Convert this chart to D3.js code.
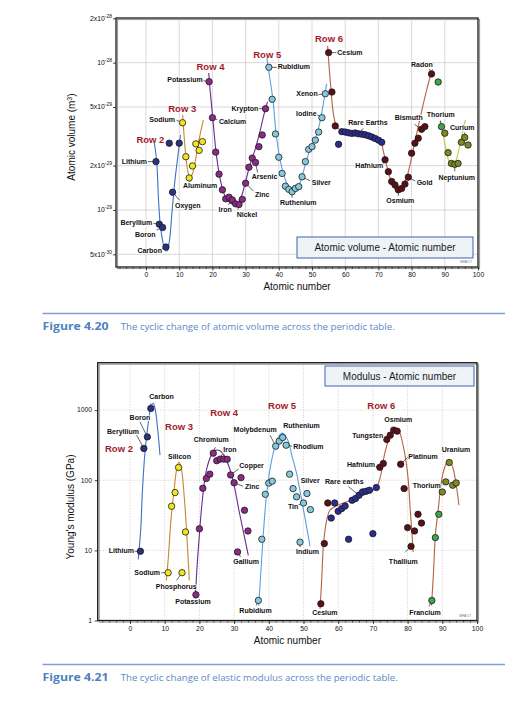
<!DOCTYPE html>
<html>
<head>
<meta charset="utf-8">
<script src="https://cdn.jsdelivr.net/npm/d3@7"></script>
<style>
body { margin: 0; background: #fff; }
svg { display: block; font-family: "Liberation Sans", Arial, sans-serif; }
</style>
</head>
<body>
<svg id="fig" width="522" height="703"></svg>
<script>
"use strict";

// ---- Figure 4.20 : atomic volume (units of 1e-29 m3) vs atomic number ----
var volRow2Z = [3, 4, 5, 6, 7, 8, 10];
var volRow2  = [2.13, 0.80, 0.76, 0.56, 2.84, 1.32, 2.84];
var volRow3Z = [11, 12, 13, 14, 15, 16, 17];
var volRow3  = [3.91, 2.30, 1.65, 1.99, 2.81, 2.54, 2.91];
var volRow4Z = [19, 20, 21, 22, 23, 24, 25, 26, 27, 28, 29, 30, 31, 32, 33, 34, 35, 36];
var volRow4  = [7.43, 4.23, 2.47, 1.75, 1.37, 1.19, 1.22, 1.17, 1.10, 1.09, 1.18, 1.52, 1.95, 2.25, 2.10, 2.69, 3.23, 4.87];
var volRow5Z = [37, 38, 39, 40, 41, 42, 43, 44, 45, 46, 47, 48, 49, 50, 51, 52, 53, 54];
var volRow5  = [9.3, 5.64, 3.28, 2.28, 1.77, 1.45, 1.38, 1.33, 1.40, 1.44, 1.68, 2.13, 2.58, 2.69, 2.98, 3.38, 4.23, 6.15];
var volRow6Z = [55, 56, 57, 72, 73, 74, 75, 76, 77, 78, 79, 80, 81, 82, 83, 84, 86];
var volRow6  = [11.7, 6.32, 3.72, 2.19, 1.82, 1.56, 1.48, 1.37, 1.40, 1.50, 1.67, 2.43, 2.84, 3.07, 3.53, 3.68, 8.38];
var volRareZ = [58, 59, 60, 61, 62, 63, 64, 65, 66, 67, 68, 69, 70, 71];
var volRare  = [2.79, 3.40, 3.38, 3.34, 3.31, 3.33, 3.29, 3.27, 3.24, 3.19, 3.13, 3.06, 2.98, 2.88];
var volRow7Z = [88, 89];
var volRow7  = [7.39, 3.68];
var volActZ  = [90, 91, 92, 93, 94, 95, 96, 97];
var volAct   = [3.32, 2.45, 2.07, 2.04, 2.07, 2.88, 3.11, 2.76];

// trend lines drawn through each row (atomic number, volume)
var volCurve2 = [[2.5,2.85],[3.22,2.13],[3.77,1.17],[4.22,0.83],[4.97,0.625],[5.72,0.535],[6.33,0.527],[7.08,0.625],[7.83,0.97],[8.73,1.6],[9.64,2.36],[10.4,3.23]];
var volCurve3 = [[11.05,4.42],[11.45,3.23],[12.05,2.25],[12.65,1.81],[13.25,1.65],[14.0,1.76],[14.9,2.18],[15.96,2.99],[17.26,4.08]];
var volCurve4 = [[18.9,8.51],[19.3,6.53],[20.1,4.21],[21.1,2.47],[22.1,1.73],[23.2,1.35],[24.4,1.17],[25.9,1.1],[27.4,1.1],[28.6,1.21],[29.8,1.5],[31.3,2.02],[32.8,2.55],[34.3,3.39],[35.5,4.42],[36.6,5.41]];
var volCurve5 = [[36.4,10.8],[36.8,9.3],[38.2,5.67],[39.2,3.28],[40.4,2.18],[41.6,1.70],[42.8,1.45],[44.2,1.33],[45.5,1.39],[46.7,1.6],[48.2,2.12],[49.7,2.68],[51.2,3.13],[52.4,3.96],[53.6,5.58],[54.4,7.17]];
var volCurve6 = [[54.7,13],[55,10.4],[55.6,7.06],[56.5,4.42],[57.5,3.66],[59,3.44],[64.5,3.28],[70.5,2.98],[71.4,2.55],[72.3,2.09],[73.5,1.65],[74.7,1.41],[75.9,1.35],[77.1,1.41],[78.3,1.6],[79.5,2.02],[80.7,2.72],[81.9,3.6],[83.1,4.77],[84.3,6.22],[85.5,7.87],[86.3,9.05]];
var volCurve7 = [[88.55,4.02],[89.5,3.23],[90.4,2.55],[91.3,2.12],[92.2,1.99],[93.1,2.09],[94,2.44],[94.9,2.99],[95.6,3.6],[96.2,4.08]];

var volTicksY   = [0.5, 1, 2, 5, 10, 20];
var volTickMant = ["5x10", "10", "2x10", "5x10", "10", "2x10"];
var volTickExp  = ["-30", "-29", "-29", "-29", "-28", "-28"];
var xTicks = [0, 10, 20, 30, 40, 50, 60, 70, 80, 90, 100];

var rowNames = ["Row 2", "Row 3", "Row 4", "Row 5", "Row 6"];
var volRowLabelZ = [-2.9, 6.7, 15.2, 32.3, 50.9];
var volRowLabelV = [2.99, 4.9, 9.4, 11.3, 14.6];

// name, atomic number, text offset x/y, anchor, leader end x/y (relative to point)
var volLabels = [
	["Lithium", 3, -9, 2.3, "end", -8, 0],
	["Beryllium", 4, -7, 1, "end", -6, -1],
	["Boron", 5, -7, 9.7, "end", -6, 2.5],
	["Carbon", 6, -4, 6.2, "end", -4, 2],
	["Oxygen", 8, 2.4, 16, "start", 7, 8],
	["Aluminum", 13, -6.2, 10, "start", 1, 4],
	["Sodium", 11, -7.5, -0.6, "end", -6, -2.5],
	["Potassium", 19, -6.4, 0.6, "end", -6, -1],
	["Calcium", 20, 6.6, 6.1, "start", 5, 2],
	["Iron", 26, -0.6, 12.3, "end", -4, 5],
	["Nickel", 28, -2.3, 12.1, "start", -1, 5],
	["Zinc", 30, 9.4, 14.1, "start", 8, 8],
	["Arsenic", 33, -3.9, 16.5, "start", 2, 10],
	["Krypton", 36, -7.2, 2.8, "end", -7, 0],
	["Rubidium", 37, 8.9, 1.7, "start", 8, 0],
	["Xenon", 54, -7.6, 2, "end", -7, 1],
	["Iodine", 53, -5.3, -1.3, "end", -5, -3],
	["Silver", 47, 9.7, 8.2, "start", 8, 4],
	["Ruthenium", 44, -12.1, 13.2, "start", 0, 6],
	["Cesium", 55, 8.7, 2.3, "start", 8, 0],
	["Radon", 86, 1.2, -6.7, "end", -2, -5],
	["Rare Earths", 64, -10.2, -8.8, "start", 4.8, -5.5],
	["Bismuth", 83, 1.1, -9, "end", -7, -5],
	["Thorium", 89, -14.8, -9.3, "start", -1, -6],
	["Curium", 96, -14.7, -7.8, "start", 0, -5],
	["Hafnium", 72, -1.7, 8.4, "end", -2, 4],
	["Gold", 79, 8.4, 7.8, "start", 7, 4],
	["Osmium", 76, 2, 13.1, "middle", 0, 6],
	["Neptunium", 93, 1.9, 15.6, "middle", 0, 7]
];

// ---- Figure 4.21 : Young's modulus (GPa) vs atomic number ----
var modRow2Z = [3, 4, 5, 6];
var modRow2  = [9.7, 284, 415, 1057];
var modRow3Z = [11, 12, 13, 14, 15, 16];
var modRow3  = [4.8, 42.5, 66.7, 152, 4.8, 18.3];
var modRow4Z = [19, 20, 21, 22, 23, 24, 25, 26, 27, 28, 29, 30, 31, 32, 33, 34];
var modRow4  = [2.33, 20.3, 76.9, 106, 122, 243, 190, 200, 200, 199, 119, 92, 9.5, 109, 37.3, 18.9];
var modRow5Z = [37, 38, 39, 40, 41, 42, 43, 44, 45, 46, 47, 48, 49, 50, 51, 52];
var modRow5  = [1.93, 14.4, 63, 91, 97, 306, 361, 407, 316, 122, 76, 58, 13.1, 47.4, 64.6, 38.1];
var modRow6Z = [55, 56, 57, 72, 73, 74, 75, 76, 77, 78, 79, 80, 81, 82, 83, 84];
var modRow6  = [1.73, 12.5, 47.4, 153, 173, 381, 439, 518, 501, 169, 76, 21.1, 11.4, 18.9, 32.7, 24.5];
var modRareZ = [58, 59, 60, 61, 62, 63, 64, 65, 66, 67, 68, 69, 70, 71];
var modRare  = [28.9, 47.4, 36.1, 39.4, 42.9, 14.4, 51.8, 54.8, 61, 68, 69.6, 72, 17.3, 78.6];
var modRow7Z = [87, 88, 89];
var modRow7  = [1.93, 15.2, 32.7];
var modActZ  = [90, 91, 92, 93, 94];
var modAct   = [68, 94.7, 179, 84.9, 91.5];

var modCurve2 = [[2.39,7.44],[3.08,19.3],[3.6,72],[4.32,251],[5.19,611],[6.05,1104],[6.7,1250],[7.3,1000],[8.07,485],[8.65,228]];
var modCurve3 = [[10.5,3.73],[11.1,8.5],[11.8,26.8],[12.7,72],[13.5,148],[14.1,181],[14.8,148],[15.6,61],[16.3,19.3],[17.1,3.73]];
var modCurve4 = [[18.8,2.06],[19.45,7.2],[20.2,22.8],[21.0,61],[21.9,130],[23.05,206],[24.2,259],[25.6,268],[27.1,228],[28.5,158],[30,85],[31.4,37.3],[32.9,16.4],[34.1,8.5]];
var modCurve5 = [[37.1,1.64],[37.75,5.2],[38.5,19.3],[39.2,51.8],[40.3,139],[41.5,268],[42.65,398],[43.8,469],[45.5,373],[46.6,230],[48,126],[49.2,62],[50.4,29.6],[51.9,11.4]];
var modCurve6 = [[54.76,1.47],[55.24,3.73],[55.7,11.1],[56.2,19.3],[56.9,29.9],[57.6,37.3],[59.9,44],[62.4,49],[66.3,59],[69.2,67.4],[71.1,80.2],[72.05,107],[73.5,251],[74.9,425],[76.4,548],[77.6,490],[78.8,299],[79.5,193],[80.2,100],[80.7,41.6],[81.2,19.3],[81.6,9.5]];
var modCurve7 = [[86.9,1.64],[87.5,5.2],[88,16.4],[88.8,37.3],[89.8,100],[90.8,158],[91.7,193],[92.8,164],[93.7,107],[94.8,44]];

var modTicksY = [1, 10, 100, 1000];
var modRowLabelZ = [-7.2, 10.1, 23.1, 39.8, 68.4];
var modRowLabelV = [284, 591, 915, 1179, 1179];

var modLabels = [
	["Carbon", 6, -1.5, -9.3, "start", 0, -5],
	["Boron", 5, -7.4, -17.1, "middle", -7.4, -15],
	["Beryllium", 4, -4.9, -14.7, "end", -7.2, -13.3],
	["Lithium", 3, -6.4, 1.4, "end", -6, 0],
	["Sodium", 11, -8.2, 2, "end", -7, 0],
	["Silicon", 14, 0.9, -8.9, "middle", 0, 0],
	["Phosphorus", 15, -5.8, 16, "middle", -5.4, 7.7],
	["Potassium", 19, -2.9, 9.7, "middle", 0, 0],
	["Chromium", 24, -2, -10.7, "middle", 2, -6],
	["Iron", 26, 3.1, -7.6, "start", 2, -5],
	["Copper", 29, 8.7, -7.1, "start", 8, -6],
	["Zinc", 30, 10.9, 6.5, "start", 9, 3.5],
	["Gallium", 31, -4.3, 12.4, "start", 3, 5],
	["Rubidium", 37, -2.9, 12.3, "middle", -2, 5],
	["Molybdenum", 42, 1, -13.7, "end", -5.7, -11],
	["Ruthenium", 44, 0.6, -9.3, "start", 0, -4],
	["Rhodium", 45, 7.1, 4, "start", 6, 1],
	["Silver", 47, 7.6, -6, "start", 0, 0],
	["Tin", 50, -5.2, 5.6, "end", -5, 2],
	["Indium", 49, -4, 12.3, "start", 0, 5],
	["Cesium", 55, 4.1, 10.7, "middle", 0, 0],
	["Rare earths", 66, -34, -11.2, "start", -10.7, -8.7],
	["Hafnium", 72, -4.8, -0.4, "end", -4, -1],
	["Tungsten", 74, -3.5, -1, "end", -3, -2],
	["Osmium", 76, 4.6, -8.4, "middle", 0, 0],
	["Platinum", 78, 7.6, -5.6, "start", 7, -7],
	["Thallium", 81, -7.8, 17.3, "middle", -6, 6],
	["Uranium", 92, 6.7, -10.7, "middle", 0, 0],
	["Thorium", 90, -1.6, -4.4, "end", -3, -3],
	["Francium", 87, -6.9, 15, "middle", -3, 6]
];

var C = {
	row2: "#2c3282", row3: "#f3e41c", row4: "#8a2b86", row5: "#86c8de",
	row6: "#5b1019", rare: "#2b2c93", row7: "#3fa64b", act: "#7f8b22",
	line2: "#3e72c6", line3: "#c7882d", line4: "#6b2b8f", line5: "#5c9fe0",
	line6: "#b4643f", line7top: "#b9cf3e", red: "#a31b2b"
};

var svg = d3.select('#fig');
svg.append('rect').attr('width', 522).attr('height', 703).attr('fill', '#fff');

function drawChart(cfg) {
	var g = svg.append('g');
	var x = d3.scaleLinear().domain(cfg.xDomain).range([cfg.left, cfg.right]);
	var y = d3.scaleLog().domain(cfg.yDomain).range([cfg.bottom, cfg.top]);

	// frame shadow
	g.append('rect')
		.attr('x', cfg.left + 1.5).attr('y', cfg.top + 1.5)
		.attr('width', cfg.right - cfg.left).attr('height', cfg.bottom - cfg.top)
		.attr('fill', 'none').attr('stroke', '#9a9a9a').attr('stroke-width', 1.2);

	// grid
	var grid = g.append('g').attr('stroke', cfg.gridColor).attr('stroke-width', 0.7)
		.attr('stroke-dasharray', cfg.gridDash);
	xTicks.filter(function(t){ return t < 100; }).forEach(function(t){
		grid.append('line').attr('x1', x(t)).attr('x2', x(t)).attr('y1', cfg.top).attr('y2', cfg.bottom);
	});
	cfg.yTicks.forEach(function(t){
		if (y(t) <= cfg.top + 1 || y(t) >= cfg.bottom - 1) { return; }
		grid.append('line').attr('x1', cfg.left).attr('x2', cfg.right).attr('y1', y(t)).attr('y2', y(t));
	});

	// axes
	var xAxis = d3.axisBottom(x).tickValues(xTicks).tickSize(3.5).tickPadding(2);
	var gx = g.append('g').attr('transform', 'translate(0,' + cfg.bottom + ')').call(xAxis);
	gx.select('.domain').remove();
	gx.selectAll('text').attr('font-size', 6.8).attr('fill', '#111');
	gx.selectAll('line').attr('stroke', '#111').attr('stroke-width', 0.8);
	var minor = d3.range(-8, 100, 2).filter(function(t){ return t % 10 !== 0; });
	var gm = g.append('g').attr('transform', 'translate(0,' + cfg.bottom + ')')
		.call(d3.axisBottom(x).tickValues(minor).tickSize(2).tickFormat(''));
	gm.select('.domain').remove();
	gm.selectAll('line').attr('stroke', '#111').attr('stroke-width', 0.6);

	var yAxis = d3.axisLeft(y).tickValues(cfg.yTicks).tickSize(3).tickPadding(2).tickFormat('');
	var gy = g.append('g').attr('transform', 'translate(' + cfg.left + ',0)').call(yAxis);
	gy.select('.domain').remove();
	gy.selectAll('line').attr('stroke', '#111').attr('stroke-width', 0.8);
	cfg.yTickText(g, y);

	// frame
	g.append('rect')
		.attr('x', cfg.left).attr('y', cfg.top)
		.attr('width', cfg.right - cfg.left).attr('height', cfg.bottom - cfg.top)
		.attr('fill', 'none').attr('stroke', '#1a1a1a').attr('stroke-width', 1.3);

	// trend lines
	var line = d3.line()
		.x(function(d){ return x(d[0]); })
		.y(function(d){ return y(d[1]); })
		.curve(d3.curveCatmullRom.alpha(0.5));
	cfg.curves.forEach(function(c){
		g.append('path').datum(c.data).attr('d', line)
			.attr('fill', 'none').attr('stroke', c.color).attr('stroke-width', 1.1);
	});

	// labels and leaders (under the points)
	var byZ = new Map();
	cfg.series.forEach(function(s){
		s.z.forEach(function(z, i){ byZ.set(z, s.v[i]); });
	});
	cfg.labels.forEach(function(l){
		var px = x(l[1]), py = y(byZ.get(l[1]));
		if (l[5] !== 0 || l[6] !== 0) {
			g.append('line').attr('x1', px).attr('y1', py)
				.attr('x2', px + l[5]).attr('y2', py + l[6])
				.attr('stroke', '#222').attr('stroke-width', 0.7);
		}
	});

	// points
	cfg.series.forEach(function(s){
		g.append('g').selectAll('circle')
			.data(s.z.map(function(z, i){ return [z, s.v[i]]; }))
			.join('circle')
			.attr('cx', function(d){ return x(d[0]); })
			.attr('cy', function(d){ return y(d[1]); })
			.attr('r', 3.2)
			.attr('fill', s.color)
			.attr('stroke', '#1b1b1b').attr('stroke-width', 0.8);
	});

	cfg.labels.forEach(function(l){
		var px = x(l[1]), py = y(byZ.get(l[1]));
		g.append('text').attr('x', px + l[2]).attr('y', py + l[3])
			.attr('text-anchor', l[4])
			.attr('font-size', 7).attr('font-weight', 'bold').attr('fill', '#111')
			.attr('stroke', '#fff').attr('stroke-width', 1.6).attr('paint-order', 'stroke')
			.text(l[0]);
	});

	// row labels
	rowNames.forEach(function(r, i){
		g.append('text').attr('x', x(cfg.rowZ[i])).attr('y', y(cfg.rowV[i]) + 3.5)
			.attr('font-size', 9.5).attr('font-weight', 'bold').attr('fill', C.red)
			.text(r);
	});

	// legend box
	g.append('rect').attr('x', cfg.legend[0]).attr('y', cfg.legend[1])
		.attr('width', cfg.legend[2]).attr('height', cfg.legend[3])
		.attr('fill', '#eef3f8').attr('stroke', '#3f63ae').attr('stroke-width', 1);
	g.append('text').attr('x', cfg.legend[0] + cfg.legend[2] / 2).attr('y', cfg.legend[1] + cfg.legend[3] / 2 + 3.5)
		.attr('text-anchor', 'middle').attr('font-size', 10).attr('fill', '#1a1a1a')
		.text(cfg.legendText);

	g.append('text').attr('x', cfg.right - 6).attr('y', cfg.bottom - 4)
		.attr('text-anchor', 'end').attr('font-size', 3.5).attr('fill', '#777').text("MFA'17");

	// axis titles
	g.append('text').attr('x', (cfg.left + cfg.right) / 2).attr('y', cfg.xTitleY)
		.attr('text-anchor', 'middle').attr('font-size', 10).attr('fill', '#111')
		.text('Atomic number');
	var yt = g.append('text')
		.attr('transform', 'translate(' + cfg.yTitleX + ',' + cfg.yTitleY + ') rotate(-90)')
		.attr('text-anchor', 'middle').attr('font-size', 10).attr('fill', '#111');
	cfg.yTitle(yt);
}

drawChart({
	left: 116, right: 478, top: 18, bottom: 267,
	xDomain: [-9.04, 100], yDomain: [0.41, 20.1],
	yTicks: volTicksY,
	gridColor: '#c9c9c9', gridDash: null,
	yTickText: function(g, y){
		volTicksY.forEach(function(t, i){
			var tx = g.append('text').attr('x', 112).attr('y', y(t) + 2.4)
				.attr('text-anchor', 'end').attr('font-size', 6.8).attr('fill', '#111');
			tx.append('tspan').text(volTickMant[i]);
			tx.append('tspan').attr('dy', -3).attr('font-size', 5).text(volTickExp[i]);
		});
	},
	series: [
		{z: volRow2Z, v: volRow2, color: C.row2},
		{z: volRow3Z, v: volRow3, color: C.row3},
		{z: volRow4Z, v: volRow4, color: C.row4},
		{z: volRow5Z, v: volRow5, color: C.row5},
		{z: volRow6Z, v: volRow6, color: C.row6},
		{z: volRareZ, v: volRare, color: C.rare},
		{z: volRow7Z, v: volRow7, color: C.row7},
		{z: volActZ, v: volAct, color: C.act}
	],
	curves: [
		{data: volCurve2, color: C.line2}, {data: volCurve3, color: C.line3},
		{data: volCurve4, color: C.line4}, {data: volCurve5, color: C.line5},
		{data: volCurve6, color: C.line6}, {data: volCurve7, color: C.line7top}
	],
	labels: volLabels,
	rowZ: volRowLabelZ, rowV: volRowLabelV,
	legend: [297, 237, 176, 21], legendText: 'Atomic volume - Atomic number',
	xTitleY: 290, yTitleX: 75, yTitleY: 137,
	yTitle: function(t){
		t.append('tspan').text('Atomic volume (m');
		t.append('tspan').attr('dy', -3.5).attr('font-size', 7).text('3');
		t.append('tspan').attr('dy', 3.5).text(')');
	}
});

drawChart({
	left: 97.7, right: 477, top: 362.7, bottom: 620.5,
	xDomain: [-9.3, 100], yDomain: [1, 4740],
	yTicks: modTicksY,
	gridColor: '#bdbdbd', gridDash: '1,1.6',
	yTickText: function(g, y){
		modTicksY.forEach(function(t){
			g.append('text').attr('x', 92).attr('y', y(t) + 2.4)
				.attr('text-anchor', 'end').attr('font-size', 6.8).attr('fill', '#111')
				.text(d3.format('d')(t));
		});
	},
	series: [
		{z: modRow2Z, v: modRow2, color: C.row2},
		{z: modRow3Z, v: modRow3, color: C.row3},
		{z: modRow4Z, v: modRow4, color: C.row4},
		{z: modRow5Z, v: modRow5, color: C.row5},
		{z: modRow6Z, v: modRow6, color: C.row6},
		{z: modRareZ, v: modRare, color: C.rare},
		{z: modRow7Z, v: modRow7, color: C.row7},
		{z: modActZ, v: modAct, color: C.act}
	],
	curves: [
		{data: modCurve2, color: C.line2}, {data: modCurve3, color: C.line3},
		{data: modCurve4, color: C.line4}, {data: modCurve5, color: C.line5},
		{data: modCurve6, color: C.line6}, {data: modCurve7, color: C.line6}
	],
	labels: modLabels,
	rowZ: modRowLabelZ, rowV: modRowLabelV,
	legend: [325, 366, 149, 20], legendText: 'Modulus - Atomic number',
	xTitleY: 644, yTitleX: 74, yTitleY: 507,
	yTitle: function(t){ t.text("Young's modulus (GPa)"); }
});

// captions
var captions = [
	{y: 313.5, num: 'Figure 4.20', text: 'The cyclic change of atomic volume across the periodic table.', len: 274},
	{y: 664.5, num: 'Figure 4.21', text: 'The cyclic change of elastic modulus across the periodic table.', len: 277}
];
captions.forEach(function(c){
	svg.append('line').attr('x1', 42.5).attr('x2', 505).attr('y1', c.y).attr('y2', c.y)
		.attr('stroke', '#7ea2d2').attr('stroke-width', 1.3);
	svg.append('text').attr('x', 42.5).attr('y', c.y + 16.5)
		.attr('font-family', '"Open Sans", "Noto Sans", sans-serif')
		.attr('font-size', 10.5).attr('font-weight', 'bold').attr('fill', '#4f80c0')
		.attr('textLength', 66).attr('lengthAdjust', 'spacingAndGlyphs')
		.text(c.num);
	svg.append('text').attr('x', 120.7).attr('y', c.y + 16)
		.attr('font-family', '"Liberation Sans Narrow", "Open Sans", sans-serif')
		.attr('font-size', 9).attr('fill', '#5b8ac6')
		.attr('textLength', c.len).attr('lengthAdjust', 'spacingAndGlyphs')
		.text(c.text);
});
</script>
</body>
</html>
